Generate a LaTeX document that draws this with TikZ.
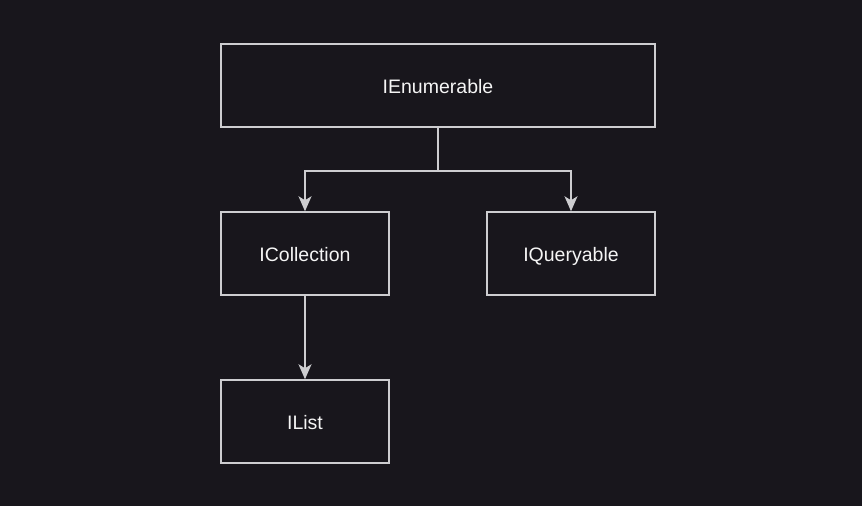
\documentclass[tikz,border=0pt]{standalone}
\usepackage{fontspec}
\setmainfont{Liberation Sans}
\usepackage{tikz}
\usetikzlibrary{arrows.meta}
\usepackage{xcolor}
\definecolor{bgdark}{RGB}{24, 22, 28}
\definecolor{boxline}{RGB}{205, 205, 208}
\definecolor{boxtext}{RGB}{245, 245, 245}
\tikzset{
  % Interfeys qutilari
  iface/.style     = {draw=boxline, line width=1.5pt, fill=bgdark,
                      text=boxtext, minimum height=83pt, inner sep=0pt,
                      text height=15pt, text depth=0pt,
                      font=\fontsize{19.5}{22}\selectfont},
  ifacewide/.style = {iface, minimum width=434pt},
  ifacesmall/.style= {iface, minimum width=168pt},
  % Bog'lovchi chiziqlar
  conn/.style      = {draw=boxline, line width=1.5pt,
                      -{Stealth[length=15pt, width=13pt, inset=4pt]}},
}
\begin{document}
\begin{tikzpicture}[x=1pt, y=-1pt]
  % Fon
  \fill[bgdark] (0,0) rectangle (862,506);
  \useasboundingbox (0,0) rectangle (862,506);
  % Qutilar
  \node[ifacewide]  (enum)  at (438,85.5)  {IEnumerable};
  \node[ifacesmall] (coll)  at (305,253.5) {ICollection};
  \node[ifacesmall] (query) at (571,253.5) {IQueryable};
  \node[ifacesmall] (list)  at (305,421.5) {IList};
  % Tarmoqlanish nuqtasi
  \coordinate (split) at ([yshift=-43pt]enum.south);
  % Bog'lovchilar
  \draw[draw=boxline, line width=1.5pt] (enum.south) -- (split);
  \draw[conn] (split) -| (coll.north);
  \draw[conn] (split) -| (query.north);
  \draw[conn] (coll.south) -- (list.north);
\end{tikzpicture}
\end{document}
